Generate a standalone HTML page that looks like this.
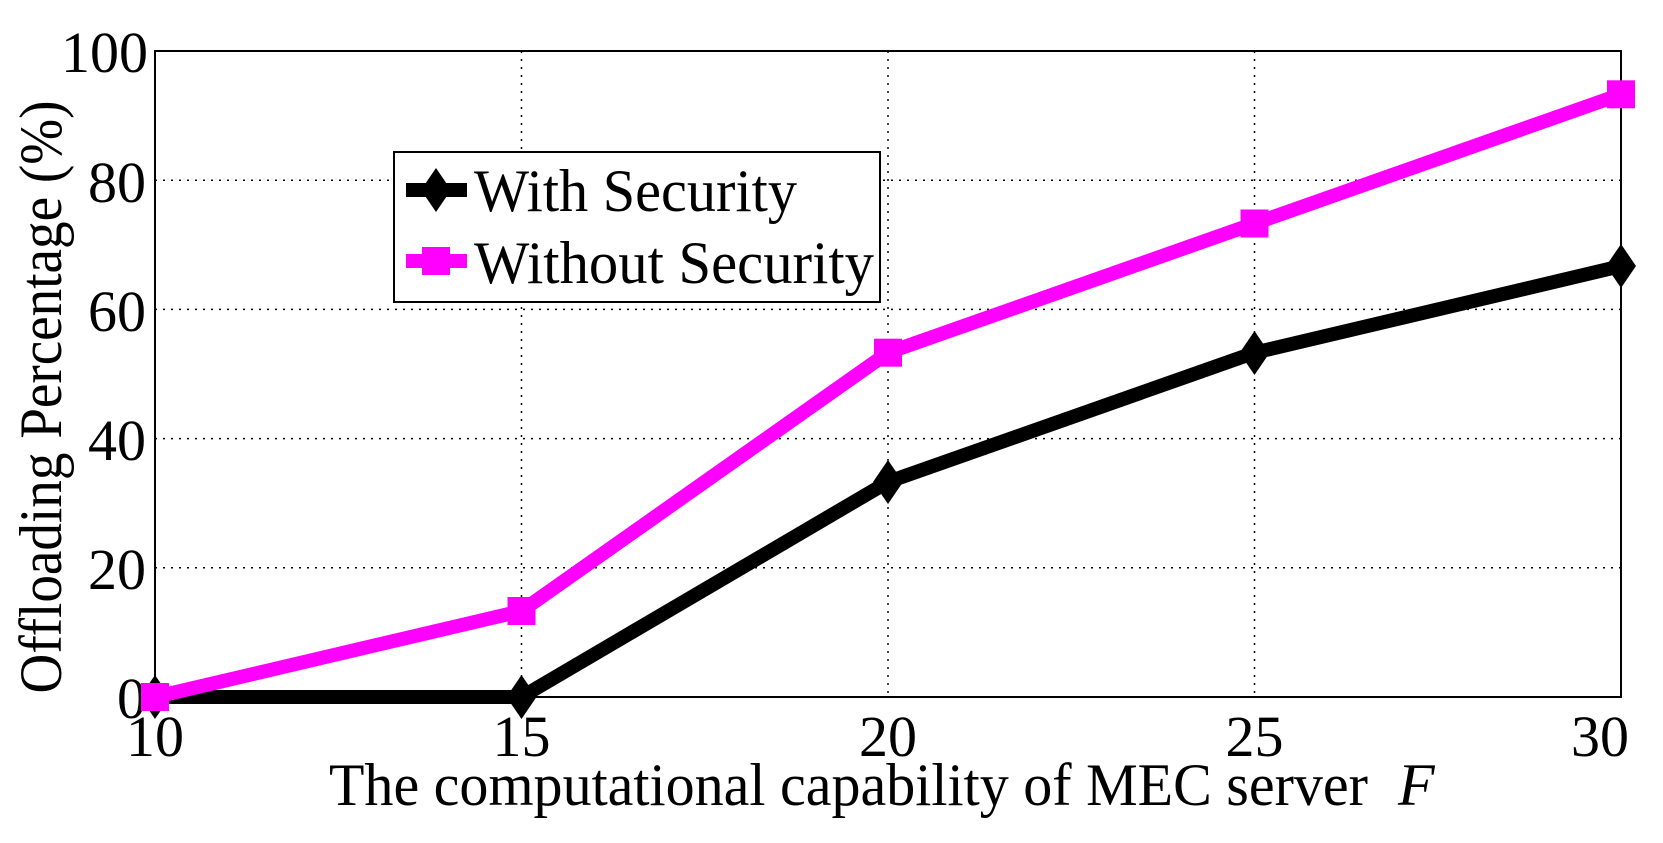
<!DOCTYPE html>
<html><head><meta charset="utf-8"><style>html,body{margin:0;padding:0;background:#fff}</style></head>
<body>
<svg width="1663" height="838" xmlns="http://www.w3.org/2000/svg" font-family="'Liberation Serif',serif" font-size="60">
<rect width="1663" height="838" fill="#fff"/>
<g stroke="#000" stroke-width="1.5" stroke-dasharray="2,6">
<line x1="521.5" y1="51" x2="521.5" y2="697"/>
<line x1="888" y1="51" x2="888" y2="697"/>
<line x1="1254.5" y1="51" x2="1254.5" y2="697"/>
<line x1="155" y1="567.8" x2="1621" y2="567.8"/>
<line x1="155" y1="438.6" x2="1621" y2="438.6"/>
<line x1="155" y1="309.4" x2="1621" y2="309.4"/>
<line x1="155" y1="180.2" x2="1621" y2="180.2"/>
</g>
<rect x="155" y="51" width="1466" height="646" fill="none" stroke="#000" stroke-width="2"/>
<g text-anchor="end" font-size="58">
<text x="146" y="718">0</text><text x="146" y="589">20</text><text x="146" y="460">40</text>
<text x="146" y="331">60</text><text x="146" y="202">80</text><text x="148" y="72">100</text>
</g>
<g text-anchor="middle" font-size="58">
<text x="155" y="756">10</text><text x="521.5" y="756">15</text><text x="888" y="756">20</text>
<text x="1254.5" y="756">25</text><text x="1600" y="756">30</text>
</g>
<text x="329" y="805" textLength="1039" lengthAdjust="spacingAndGlyphs">The computational capability of MEC server</text>
<text x="1398" y="805" font-style="italic">F</text>
<text transform="translate(61,397) rotate(-90)" text-anchor="middle" textLength="593" lengthAdjust="spacingAndGlyphs">Offloading Percentage (%)</text>
<polyline points="155,697 521.5,697 888,481.9 1254.5,352.7 1621,266.1" fill="none" stroke="#000" stroke-width="14" stroke-linejoin="round"/>
<g fill="#000">
<polygon points="155,675 170,697 155,719 140,697"/>
<polygon points="521.5,675 536.5,697 521.5,719 506.5,697"/>
<polygon points="888,460 903,482 888,504 873,482"/>
<polygon points="1254.5,331 1269.5,353 1254.5,375 1239.5,353"/>
<polygon points="1621,244 1636,266 1621,288 1606,266"/>
</g>
<polyline points="155,697 521.5,611 888,352.7 1254.5,223.5 1621,94.3" fill="none" stroke="#ff00ff" stroke-width="14" stroke-linejoin="round"/>
<g fill="#ff00ff">
<rect x="141" y="683" width="28" height="28"/>
<rect x="507.5" y="597" width="28" height="28"/>
<rect x="874" y="338.7" width="28" height="28"/>
<rect x="1240.5" y="209.5" width="28" height="28"/>
<rect x="1607" y="80.3" width="28" height="28"/>
</g>
<rect x="394" y="152" width="486" height="150" fill="#fff" stroke="#000" stroke-width="2"/>
<line x1="406" y1="190" x2="467" y2="190" stroke="#000" stroke-width="14"/>
<polygon points="436,168 451,190 436,212 421,190" fill="#000"/>
<line x1="406" y1="261" x2="467" y2="261" stroke="#ff00ff" stroke-width="14"/>
<rect x="422" y="247" width="28" height="28" fill="#ff00ff"/>
<text x="474" y="211" textLength="323" lengthAdjust="spacingAndGlyphs">With Security</text>
<text x="474" y="283" textLength="400" lengthAdjust="spacingAndGlyphs">Without Security</text>
</svg>
</body></html>
